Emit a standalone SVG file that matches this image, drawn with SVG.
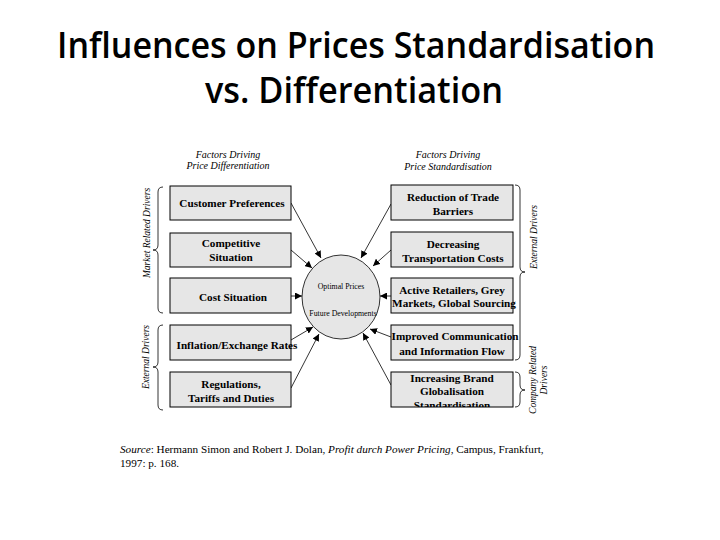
<svg xmlns="http://www.w3.org/2000/svg" width="720" height="540" viewBox="0 0 720 540">
<style>
.title{font-family:"Open Sans","Noto Sans",sans-serif;font-weight:600;font-size:36px;fill:#000;text-anchor:middle}
.box{fill:#e6e6e6;stroke:#000;stroke-width:1}
.bt{font-family:"Liberation Serif",serif;font-weight:bold;font-size:11.2px;fill:#000;text-anchor:middle}
.hd{font-family:"Liberation Serif",serif;font-style:italic;font-size:10px;fill:#000;text-anchor:middle}
.vl{font-family:"Liberation Serif",serif;font-style:italic;font-size:9.5px;fill:#000;text-anchor:middle}
.ct{font-family:"Liberation Serif",serif;font-size:7.8px;fill:#000;text-anchor:middle}
.src{font-family:"Liberation Serif",serif;font-size:11.2px;fill:#000}
.ln{stroke:#000;stroke-width:0.8;fill:none;marker-end:url(#ah)}
.br{stroke:#000;stroke-width:0.8;fill:none}
</style>
<defs>
<marker id="ah" viewBox="0 0 10 10" refX="10" refY="5" markerWidth="7" markerHeight="7" markerUnits="userSpaceOnUse" orient="auto">
<path d="M0,0 L10,5 L0,10 z" fill="#000"/>
</marker>
<clipPath id="clipInc"><rect x="391" y="372" width="122" height="35"/></clipPath>
</defs>
<rect width="720" height="540" fill="#fff"/>
<text class="title" x="356" y="58" textLength="598" lengthAdjust="spacingAndGlyphs">Influences on Prices Standardisation</text>
<text class="title" x="354" y="103" textLength="298" lengthAdjust="spacingAndGlyphs">vs. Differentiation</text>

<g id="header-left"><text class="hd" x="228" y="158">Factors Driving</text><text class="hd" x="228" y="169">Price Differentiation</text></g>
<g id="header-right"><text class="hd" x="448" y="158">Factors Driving</text><text class="hd" x="448" y="170">Price Standardisation</text></g>

<g id="connectors">
<line class="ln" x1="291" y1="203" x2="321" y2="258"/>
<line class="ln" x1="291" y1="250" x2="312" y2="268"/>
<line class="ln" x1="291" y1="296" x2="302" y2="296"/>
<line class="ln" x1="291" y1="340" x2="313" y2="327"/>
<line class="ln" x1="291" y1="388" x2="319" y2="334"/>
<line class="ln" x1="391" y1="204" x2="361" y2="258"/>
<line class="ln" x1="391" y1="250" x2="373" y2="266"/>
<line class="ln" x1="391" y1="296" x2="380" y2="296"/>
<line class="ln" x1="391" y1="337" x2="370" y2="329"/>
<line class="ln" x1="391" y1="385" x2="363" y2="333"/>
</g>

<g id="center"><ellipse cx="341" cy="297" rx="39" ry="42" fill="#e6e6e6" stroke="#000" stroke-width="0.8"/>
<text class="ct" x="341" y="289">Optimal Prices</text><text class="ct" x="343" y="316">Future Developments</text></g>

<g id="customer-preferences"><rect class="box" x="170" y="186" width="121" height="34"/><text class="bt" x="232" y="207">Customer Preferences</text></g>
<g id="competitive-situation"><rect class="box" x="170" y="233" width="121" height="34"/><text class="bt" x="231" y="247">Competitive</text><text class="bt" x="231" y="261">Situation</text></g>
<g id="cost-situation"><rect class="box" x="170" y="278" width="121" height="35"/><text class="bt" x="233" y="301">Cost Situation</text></g>
<g id="inflation"><rect class="box" x="170" y="325" width="121" height="35"/><text class="bt" x="237" y="349">Inflation/Exchange Rates</text></g>
<g id="regulations"><rect class="box" x="170" y="372" width="121" height="35"/><text class="bt" x="231" y="388">Regulations,</text><text class="bt" x="231" y="402">Tariffs and Duties</text></g>

<g id="trade-barriers"><rect class="box" x="391" y="185" width="122" height="35"/><text class="bt" x="453" y="201">Reduction of Trade</text><text class="bt" x="453" y="215">Barriers</text></g>
<g id="transportation"><rect class="box" x="391" y="232" width="122" height="35"/><text class="bt" x="453" y="248">Decreasing</text><text class="bt" x="453" y="262">Transportation Costs</text></g>
<g id="retailers"><rect class="box" x="391" y="278" width="122" height="35"/><text class="bt" x="452" y="294">Active Retailers, Grey</text><text class="bt" x="454" y="307">Markets, Global Sourcing</text></g>
<g id="communication"><rect class="box" x="391" y="325" width="122" height="35"/><text class="bt" x="455" y="340">Improved Communication</text><text class="bt" x="452" y="355">and Information Flow</text></g>
<g id="brand"><rect class="box" x="391" y="372" width="122" height="35"/><g clip-path="url(#clipInc)"><text class="bt" x="452" y="382">Increasing Brand</text><text class="bt" x="452" y="395">Globalisation</text><text class="bt" x="452" y="409">Standardisation</text></g></g>

<g id="braces">
<path class="br" d="M163,187 Q158,187 158,192 L158,245 Q158,250 153,250 Q158,250 158,255 L158,308 Q158,313 163,313"/>
<path class="br" d="M163,325 Q158,325 158,330 L158,362 Q158,367 153,367 Q158,367 158,372 L158,405 Q158,410 163,410"/>
<path class="br" d="M515,185 Q520,185 520,190 L520,267 Q520,272 525,272 Q520,272 520,277 L520,355 Q520,360 515,360"/>
<path class="br" d="M515,372 Q520,372 520,377 L520,385 Q520,390 525,390 Q520,390 520,395 L520,402 Q520,407 515,407"/>
</g>
<g id="labels">
<text class="vl" transform="translate(150,233) rotate(-90)">Market Related Drivers</text>
<text class="vl" transform="translate(149,357) rotate(-90)">External Drivers</text>
<text class="vl" transform="translate(537,237) rotate(-90)">External Drivers</text>
<text class="vl" transform="translate(536,380) rotate(-90)">Company Related</text>
<text class="vl" transform="translate(547,380) rotate(-90)">Drivers</text>
</g>
<g id="source">
<text class="src" x="120" y="453"><tspan font-style="italic">Source</tspan>: Hermann Simon and Robert J. Dolan, <tspan font-style="italic">Profit durch Power Pricing</tspan>, Campus, Frankfurt,</text>
<text class="src" x="120" y="467">1997: p. 168.</text>
</g>
</svg>
